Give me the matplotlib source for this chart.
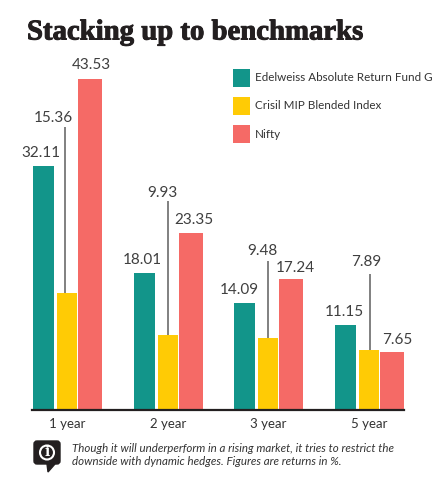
#!/usr/bin/env python3
import matplotlib
matplotlib.use('Agg')
import matplotlib.pyplot as plt
import matplotlib.patheffects as pe
import numpy as np
from matplotlib.patches import Circle, FancyBboxPatch, Polygon

TEAL = '#12958A'
YELLOW = '#FFCB05'
CORAL = '#F56A66'
DARK = '#231F20'
GREY = '#6B6B6B'

periods = ['1 year', '2 year', '3 year', '5 year']
fund_values = [32.11, 18.01, 14.09, 11.15]
index_values = [15.36, 9.93, 9.48, 7.89]
nifty_values = [43.53, 23.35, 17.24, 7.65]
series_names = ['Edelweiss Absolute Return Fund G', 'Crisil MIP Blended Index', 'Nifty']

W, H = 446, 480
PX_PER_UNIT = 7.6
GROUP_PX = 100.7

plt.rcParams['font.family'] = ['Lato', 'DejaVu Sans']

fig = plt.figure(figsize=(W / 100, H / 100), dpi=100, facecolor='white')
ax = fig.add_axes([32 / W, (H - 410) / H, 372 / W, 350 / H])
ax.set_xlim(-35 / GROUP_PX, 337 / GROUP_PX + 0)
ax.set_ylim(0, 350 / PX_PER_UNIT)

x = np.arange(len(periods))
ax.bar(x - 23.5 / GROUP_PX, fund_values, 21 / GROUP_PX, color=TEAL, label=series_names[0])
ax.bar(x, index_values, 20 / GROUP_PX, color=YELLOW, label=series_names[1])
ax.bar(x + 23 / GROUP_PX, nifty_values, 24 / GROUP_PX, color=CORAL, label=series_names[2])

# value labels, offsets in px from the bar top / bar centre
def value_label(xpos, val, dx, dy):
    ax.annotate(f'{val:.2f}', (xpos, val), xytext=(dx * 0.72, dy * 0.72),
                textcoords='offset points', ha='center', va='center',
                fontsize=11, color='#3F3F3F')

fund_off = [(-3, 13), (-2, 13), (-6, 13), (-1, 13)]
index_off = [(-14, 175), (-5, 142), (-6, 87), (-3, 88)]
nifty_off = [(1, 14), (3, 13), (4, 11), (5, 12)]
lead_px = [166, 134, 77, 76]
line_dx = [-2, 0, 0, 1]

for i in range(len(periods)):
    value_label(x[i] - 23.5 / GROUP_PX, fund_values[i], *fund_off[i])
    value_label(x[i], index_values[i], *index_off[i])
    value_label(x[i] + 23 / GROUP_PX, nifty_values[i], *nifty_off[i])
    ax.plot([x[i] + line_dx[i] / GROUP_PX] * 2,
            [index_values[i], index_values[i] + lead_px[i] / PX_PER_UNIT],
            color=GREY, lw=1.2, solid_capstyle='butt')

for s in ['top', 'right', 'left']:
    ax.spines[s].set_visible(False)
ax.spines['bottom'].set_linewidth(1.6)
ax.spines['bottom'].set_color(DARK)
ax.set_yticks([])
ax.set_xticks(x + 0.0)
ax.set_xticklabels(periods, fontsize=9.5, color='#333333')
ax.tick_params(axis='x', length=0, pad=6)

leg = fig.legend(loc='upper left', bbox_to_anchor=(229.5 / W, 1 - 65 / H), frameon=False,
                 fontsize=8.4, handlelength=1.46, handleheight=2.0, handletextpad=0.43,
                 labelspacing=0.87, borderaxespad=0, borderpad=0.3, labelcolor='#333333')

fig.text(27 / W, 1 - 32 / H, 'Stacking up to benchmarks', family='Liberation Serif',
         fontweight='bold', fontsize=20.7, color=DARK, va='center', ha='left',
         path_effects=[pe.withStroke(linewidth=0.7, foreground=DARK)])

note = ('Though it will underperform in a rising market, it tries to restrict the\n'
        'downside with dynamic hedges. Figures are returns in %.')
fig.text(72 / W, 1 - 455 / H, note, fontsize=8.3, style='italic', color='#333333',
         va='center', ha='left', linespacing=1.2)

# info icon, drawn in pixel coordinates
icon = fig.add_axes([0, 0, 1, 1], facecolor='none')
icon.set_xlim(0, W)
icon.set_ylim(H, 0)
icon.axis('off')
icon.add_patch(FancyBboxPatch((34, 441), 26, 23, boxstyle='round,pad=0,rounding_size=3', fc=DARK, ec=DARK, lw=1))
icon.add_patch(Polygon([(47, 464), (55, 464), (48, 472)], fc=DARK, ec=DARK))
icon.add_patch(Circle((47, 452.5), 7, fc='none', ec='white', lw=1.5))
icon.text(47, 452.5, 'i', color='white', fontsize=10, fontweight='bold', ha='center', va='center', family='DejaVu Serif')

fig.savefig('out.png', dpi=100, facecolor='white')
